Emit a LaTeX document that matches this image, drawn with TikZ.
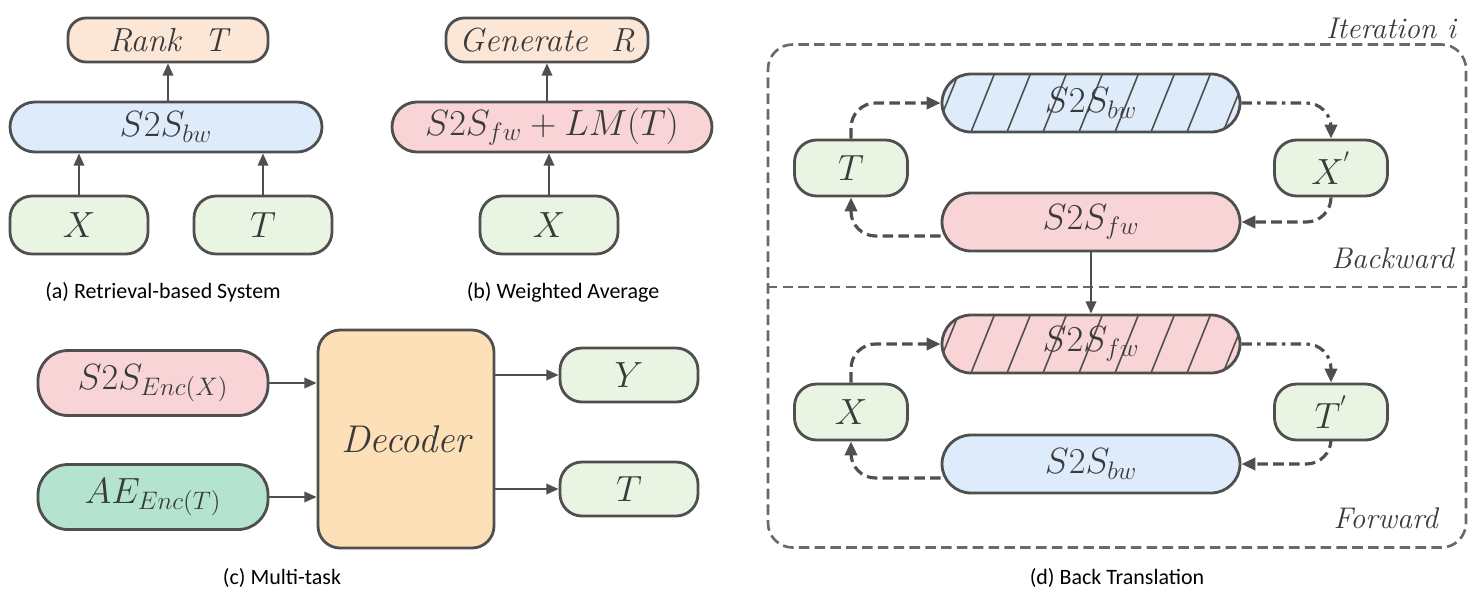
\documentclass[tikz,border=0pt]{standalone}
\usepackage{fontspec}
\newfontfamily\capf{Carlito}
\usetikzlibrary{arrows.meta}
\definecolor{bd}{HTML}{4F4F4F}
\definecolor{tx}{HTML}{3A3A3A}
\definecolor{gr}{HTML}{E9F4E2}
\definecolor{bl}{HTML}{DEEBFA}
\definecolor{pk}{HTML}{F8D4D6}
\definecolor{org}{HTML}{FCE6D6}
\definecolor{dec}{HTML}{FDDFB8}
\definecolor{ae}{HTML}{B4E4CF}
\begin{document}
\begin{tikzpicture}[x=0.02cm,y=-0.02cm,
  box/.style={draw=bd,line width=1.6pt,text=tx,font=\fontsize{22}{24}\selectfont,inner sep=0pt},
  rb/.style n args={3}{box,minimum width=#1*0.02cm,minimum height=#2*0.02cm,rounded corners=#3*0.02cm},
  g/.style={fill=gr},
  sm/.style={font=\itshape\fontsize{19}{22}\selectfont},
  ar/.style={draw=bd,line width=1.2pt,-{Triangle[length=7pt,width=6pt]}},
  da/.style={draw=bd,line width=1.8pt,dash pattern=on 6pt off 3pt,-{Triangle[length=8pt,width=7pt]},rounded corners=14pt},
  dd/.style={draw=bd,line width=1.8pt,dash pattern=on 6pt off 3pt on 2pt off 3pt,-{Triangle[length=8pt,width=7pt]},rounded corners=14pt},
  hatch/.style={path picture={\foreach \i in {-4,...,4}{\draw[bd,line width=0.9pt] ([xshift=\i*36*0.02cm-12*0.02cm]path picture bounding box.south) -- ++(25*0.02cm,62*0.02cm);}}},
  captxt/.style={font=\capf\fontsize{12.5}{14}\selectfont,text=black},
  lab/.style={font=\itshape\fontsize{17}{20}\selectfont,text=tx}]
\useasboundingbox (0,0) rectangle (1481,610);
% (a)
\node[rb={200}{44}{18},fill=org,sm] (rk) at (168,40) {Rank\ \ T};
\node[rb={312}{50}{25},fill=bl] (sa) at (166,127) {$S2S_{bw}$};
\node[rb={138}{58}{22},g] (xa) at (79,225) {$X$};
\node[rb={138}{58}{22},g] (ta) at (263,225) {$T$};
\draw[ar] (xa) -- (xa|-sa.south);
\draw[ar] (ta) -- (ta|-sa.south);
\draw[ar] (sa.north-|rk) -- (rk);
\node[captxt] (ca) at (163,292) {(a) Retrieval-based System};
% (b)
\node[rb={202}{44}{18},fill=org,sm] (gr) at (547,40) {Generate\ \ R};
\node[rb={320}{50}{25},fill=pk] (sb) at (552,127) {$S2S_{fw}+LM(T)$};
\node[rb={138}{58}{22},g] (xb) at (549,225) {$X$};
\draw[ar] (xb) -- (xb|-sb.south);
\draw[ar] (sb.north-|gr) -- (gr);
\node[captxt] (cb) at (563,292) {(b) Weighted Average};
% (c)
\node[rb={230}{65}{30},fill=pk] (enc) at (153,383) {$S2S_{Enc(X)}$};
\node[rb={230}{65}{30},fill=ae] (aec) at (153,497) {$AE_{Enc(T)}$};
\node[rb={176}{218}{22},fill=dec] (de) at (406,439) {\itshape Decoder};
\node[rb={138}{54}{22},g] (yc) at (629,375) {$Y$};
\node[rb={138}{54}{22},g] (tc) at (629,489) {$T$};
\draw[ar] (enc.east) -- (de.west|-enc.east);
\draw[ar] (aec.east) -- (de.west|-aec.east);
\draw[ar] (de.east|-yc) -- (yc);
\draw[ar] (de.east|-tc) -- (tc);
\node[captxt] (cc) at (282,578) {(c) Multi-task};
% (d)
\node[draw=bd!85,line width=1.5pt,dash pattern=on 6pt off 3pt,rounded corners=14pt,minimum width=698*0.02cm,minimum height=503*0.02cm] (fr) at (1117,296) {};
\draw[bd!85,line width=1.5pt,dash pattern=on 6pt off 3pt] (fr.west|-0,287) coordinate (l1) -- (fr.east|-0,287) coordinate (l2);
\node[lab,anchor=east] (it) at (1462,28) {Iteration i};
\node[lab,anchor=east] (bw) at (1460,258) {Backward};
\node[lab,anchor=east] (fw) at (1444,518) {Forward};
\node[rb={298}{58}{29},fill=bl,hatch] (s1) at (1091,103) {$S2S_{bw}$};
\node[rb={113}{56}{22},g] (t1) at (851,168) {$T$};
\node[rb={113}{56}{22},g] (x1) at (1331,168) {$X^{'}$};
\node[rb={298}{58}{29},fill=pk] (f1) at (1091,222) {$S2S_{fw}$};
\node[rb={298}{58}{29},fill=pk,hatch] (s2) at (1091,344) {$S2S_{fw}$};
\node[rb={113}{56}{22},g] (x2) at (851,412) {$X$};
\node[rb={113}{56}{22},g] (t2) at (1331,412) {$T^{'}$};
\node[rb={298}{58}{29},fill=bl] (f2) at (1091,464) {$S2S_{bw}$};
\draw[ar] (f1) -- (s2);
\draw[da] (t1.north) |- (s1.west);
\draw[dd] (s1.east) -| (x1.north);
\draw[da] (x1.south) |- (f1.east);
\draw[da] ([yshift=-14*0.02cm]f1.west) -| (t1.south);
\draw[da] (x2.north) |- (s2.west);
\draw[dd] (s2.east) -| (t2.north);
\draw[da] (t2.south) |- (f2.east);
\draw[da] ([yshift=-14*0.02cm]f2.west) -| (x2.south);
\node[captxt] (cd) at (1117,578) {(d) Back Translation};
\end{tikzpicture}
\end{document}
